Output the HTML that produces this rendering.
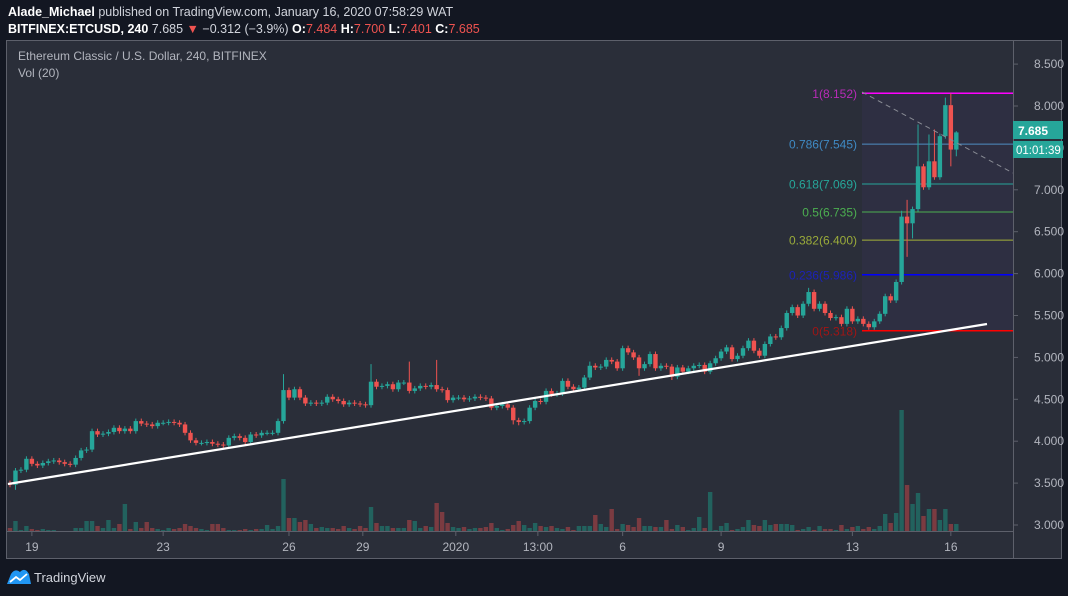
<!DOCTYPE html>
<html><head><meta charset="utf-8"><style>
html,body{margin:0;padding:0;background:#131722;width:1068px;height:596px;overflow:hidden;font-family:"Liberation Sans",sans-serif}
svg{display:block}
</style></head><body>
<svg id="c" width="1068" height="596" xmlns="http://www.w3.org/2000/svg">
<rect x="0" y="0" width="1068" height="596" fill="#131722"/>
<text x="8" y="16" font-size="12.5" fill="#d1d4dc"><tspan font-weight="bold" fill="#fff">Alade_Michael</tspan> published on TradingView.com, January 16, 2020 07:58:29 WAT</text>
<text x="8" y="33" font-size="12.5" fill="#d1d4dc"><tspan font-weight="bold" fill="#fff">BITFINEX:ETCUSD, 240</tspan> 7.685 <tspan fill="#ef5350">▼</tspan> −0.312 (−3.9%) <tspan font-weight="bold" fill="#fff">O:</tspan><tspan fill="#ef5350">7.484</tspan> <tspan font-weight="bold" fill="#fff">H:</tspan><tspan fill="#ef5350">7.700</tspan> <tspan font-weight="bold" fill="#fff">L:</tspan><tspan fill="#ef5350">7.401</tspan> <tspan font-weight="bold" fill="#fff">C:</tspan><tspan fill="#ef5350">7.685</tspan></text>
<rect x="6.5" y="40.5" width="1055" height="518" fill="#2a2e39" stroke="#5d606b"/>
<rect x="862" y="92" width="151" height="238" fill="#2e2f42"/>
<g id="grid"></g>
<g id="vol"></g>
<g id="fib"></g>
<g id="candles"></g>
<line x1="8" y1="484" x2="987" y2="324" stroke="#fff" stroke-width="2.2"/>
<line x1="862" y1="92" x2="1013" y2="173" stroke="#888b94" stroke-width="1" stroke-dasharray="5,4"/>
<line x1="1013.5" y1="41" x2="1013.5" y2="558" stroke="#5d606b"/>
<line x1="7" y1="531.5" x2="1013" y2="531.5" stroke="#5d606b"/>
<g id="yaxis"></g>
<g id="xaxis"></g>
<text x="18" y="60" font-size="12" fill="#b2b5be">Ethereum Classic / U.S. Dollar, 240, BITFINEX</text>
<text x="18" y="77" font-size="12" fill="#b2b5be">Vol (20)</text>
<rect x="1013" y="121" width="50" height="18" fill="#26a69a"/>
<text x="1018" y="135" font-size="12" fill="#fff" font-weight="bold">7.685</text>
<rect x="1013" y="141" width="50" height="17" fill="#26a69a"/>
<text x="1016" y="154" font-size="11.5" fill="#fff">01:01:39</text>
<g>
<path d="M7 584 L11 574 Q15 568 20 572 Q25 567 29 574 L31 584 Z" fill="#2196f3"/>
<path d="M10 582 L16 577 L20 580 L27 574" stroke="#fff" stroke-width="1.8" fill="none"/>
<text x="34" y="582" font-size="13" fill="#d1d4dc">TradingView</text>
</g>
</svg>
<script>
const closes=[3.48,3.65,3.66,3.79,3.73,3.71,3.74,3.76,3.77,3.75,3.73,3.72,3.80,3.89,3.90,4.12,4.08,4.09,4.11,4.16,4.12,4.15,4.12,4.24,4.21,4.20,4.18,4.22,4.22,4.23,4.22,4.20,4.10,4.01,3.98,3.98,3.99,3.97,3.96,3.95,4.04,4.06,4.04,3.99,4.08,4.07,4.10,4.10,4.10,4.24,4.61,4.52,4.62,4.52,4.45,4.46,4.45,4.46,4.53,4.50,4.48,4.44,4.46,4.45,4.44,4.43,4.71,4.65,4.66,4.68,4.62,4.70,4.70,4.60,4.63,4.66,4.65,4.67,4.62,4.61,4.49,
4.52,4.52,4.50,4.51,4.53,4.52,4.51,4.40,4.42,4.44,4.40,4.25,4.23,4.24,4.40,4.48,4.47,4.60,4.56,4.57,4.72,4.65,4.62,4.64,4.76,4.90,4.88,4.89,4.97,4.95,4.87,5.11,5.06,5.00,4.87,4.92,5.04,4.87,4.90,4.89,4.77,4.88,4.83,4.87,4.90,4.91,4.83,4.93,4.99,5.07,5.12,4.98,5.02,5.11,5.20,5.08,5.02,5.16,5.25,5.24,5.35,5.53,5.60,5.50,5.64,5.78,5.58,5.64,5.53,5.47,5.48,5.40,5.58,5.43,5.46,5.40,5.36,5.43,5.52,5.73,5.68,5.90,6.68,6.60,6.77,7.28,7.03,7.34,7.15,7.64,8.01,7.48,7.685];
const firstOpen=3.50;
const spikeIdx=[50,66,73,78,106,112,146,163,164,166,168,169,171,172,173];
const spikeHigh=[4.80,4.92,4.95,4.97,4.95,5.14,5.83,6.75,6.88,7.78,7.66,7.72,8.10,8.15,7.70];
const spikeLowIdx=[1,92,93,115,121,164,165,172,173];
const spikeLow=[3.42,4.20,4.19,4.78,4.73,6.20,6.42,7.28,7.40];
const volumes=[3,10,1,5,2,1,2,1,1,0,0,0,3,3,10,10,5,3,11,3,7,27,2,9,3,9,3,2,1,3,2,3,7,5,3,2,1,7,7,3,1,1,1,2,1,2,2,6,2,5,52,13,13,9,11,7,3,4,3,3,2,5,3,2,5,3,24,8,5,5,3,3,3,11,10,3,5,4,28,19,8,4,3,4,2,3,3,4,8,3,1,2,6,10,6,3,8,5,4,5,3,2,4,1,5,5,5,16,7,4,22,2,7,6,4,13,5,5,4,4,11,2,6,4,1,3,14,3,39,1,5,8,1,2,4,11,6,5,11,6,7,7,7,6,1,2,4,1,5,2,2,1,6,2,4,5,2,4,2,5,17,8,18,121,46,27,38,15,22,22,11,22,7,7];
const priceTicks=[8.5,8.0,7.5,7.0,6.5,6.0,5.5,5.0,4.5,4.0,3.5,3.0];
const timeLabels=["19","23","26","29","2020","13:00","6","9","13","16"];
const timeLabelIdx=[4,28,51,64.5,81.5,96.5,112,130,154,172];
const fibRatios=["1","0.786","0.618","0.5","0.382","0.236","0"];
const fibPrices=[8.152,7.545,7.069,6.735,6.400,5.986,5.318];
const fibLine=["#ff00ff","#4f8ec2","#26a69a","#4caf50","#a3b13a","#0000ff","#ff0000"];
const fibText=["#b82bb8","#3f8ac4","#26a69a","#4caf50","#9aab3a","#1c22b8","#a01515"];

const NS="http://www.w3.org/2000/svg";
const y=p=>525-(p-3)*83.8;
const x=i=>10+i*5.47;
const volY=v=>531-v;
function mk(tag,attrs,parent){const e=document.createElementNS(NS,tag);for(const k in attrs)e.setAttribute(k,attrs[k]);parent.appendChild(e);return e;}
const G=id=>document.getElementById(id);

priceTicks.forEach(p=>{
  const t=mk('text',{x:1034,y:y(p)+4,'font-size':12,fill:'#b2b5be'},G('yaxis'));
  
  
  t.textContent=p.toFixed(3);
  const l=mk('line',{x1:1013,x2:1018,y1:y(p),y2:y(p),stroke:'#5d606b'},G('yaxis'));
  
  
});
timeLabels.forEach((s,k)=>{
  const xx=x(timeLabelIdx[k]);
  const t=mk('text',{x:xx,y:551,'font-size':12,fill:'#b2b5be','text-anchor':'middle'},G('xaxis'));
  
  
  t.textContent=s;
  const l=mk('line',{x1:xx,x2:xx,y1:531,y2:536,stroke:'#5d606b'},G('xaxis'));
  
  
});
fibPrices.forEach((p,k)=>{
  const l=mk('line',{x1:862,x2:1013,y1:y(p),y2:y(p),stroke:fibLine[k],'stroke-width':k==0||k==5||k==6?1.5:1},G('fib'));
  
  
  const t=mk('text',{x:857,y:y(p)+4.5,'font-size':12,fill:fibText[k],'text-anchor':'end'},G('fib'));
  
  
  t.textContent=fibRatios[k]+'('+p.toFixed(3)+')';
});
closes.forEach((c,i)=>{
  const o=i==0?firstOpen:closes[i-1];
  const up=c>=o;
  const col=up?'#26a69a':'#ef5350';
  let hi=Math.max(o,c)+0.03, lo=Math.min(o,c)-0.03;
  const si=spikeIdx.indexOf(i); if(si>=0) hi=spikeHigh[si];
  const li=spikeLowIdx.indexOf(i); if(li>=0) lo=spikeLow[li];
  const cx=x(i);
  const w=mk('line',{x1:cx,x2:cx,y1:y(hi),y2:y(lo),stroke:col,'stroke-width':1},G('candles'));
  
  
  const top=y(Math.max(o,c)),h=Math.max(1,y(Math.min(o,c))-top);
  const b=mk('rect',{x:cx-2.2,y:top,width:4.4,height:h,fill:col},G('candles'));
  
  
  const v=volumes[i];
  const vb=mk('rect',{x:cx-2.2,y:volY(v),width:4.4,height:531-volY(v),fill:up?'#22625e':'#7b3b41'},G('vol'));
  
  
});
</script>
</body></html>
